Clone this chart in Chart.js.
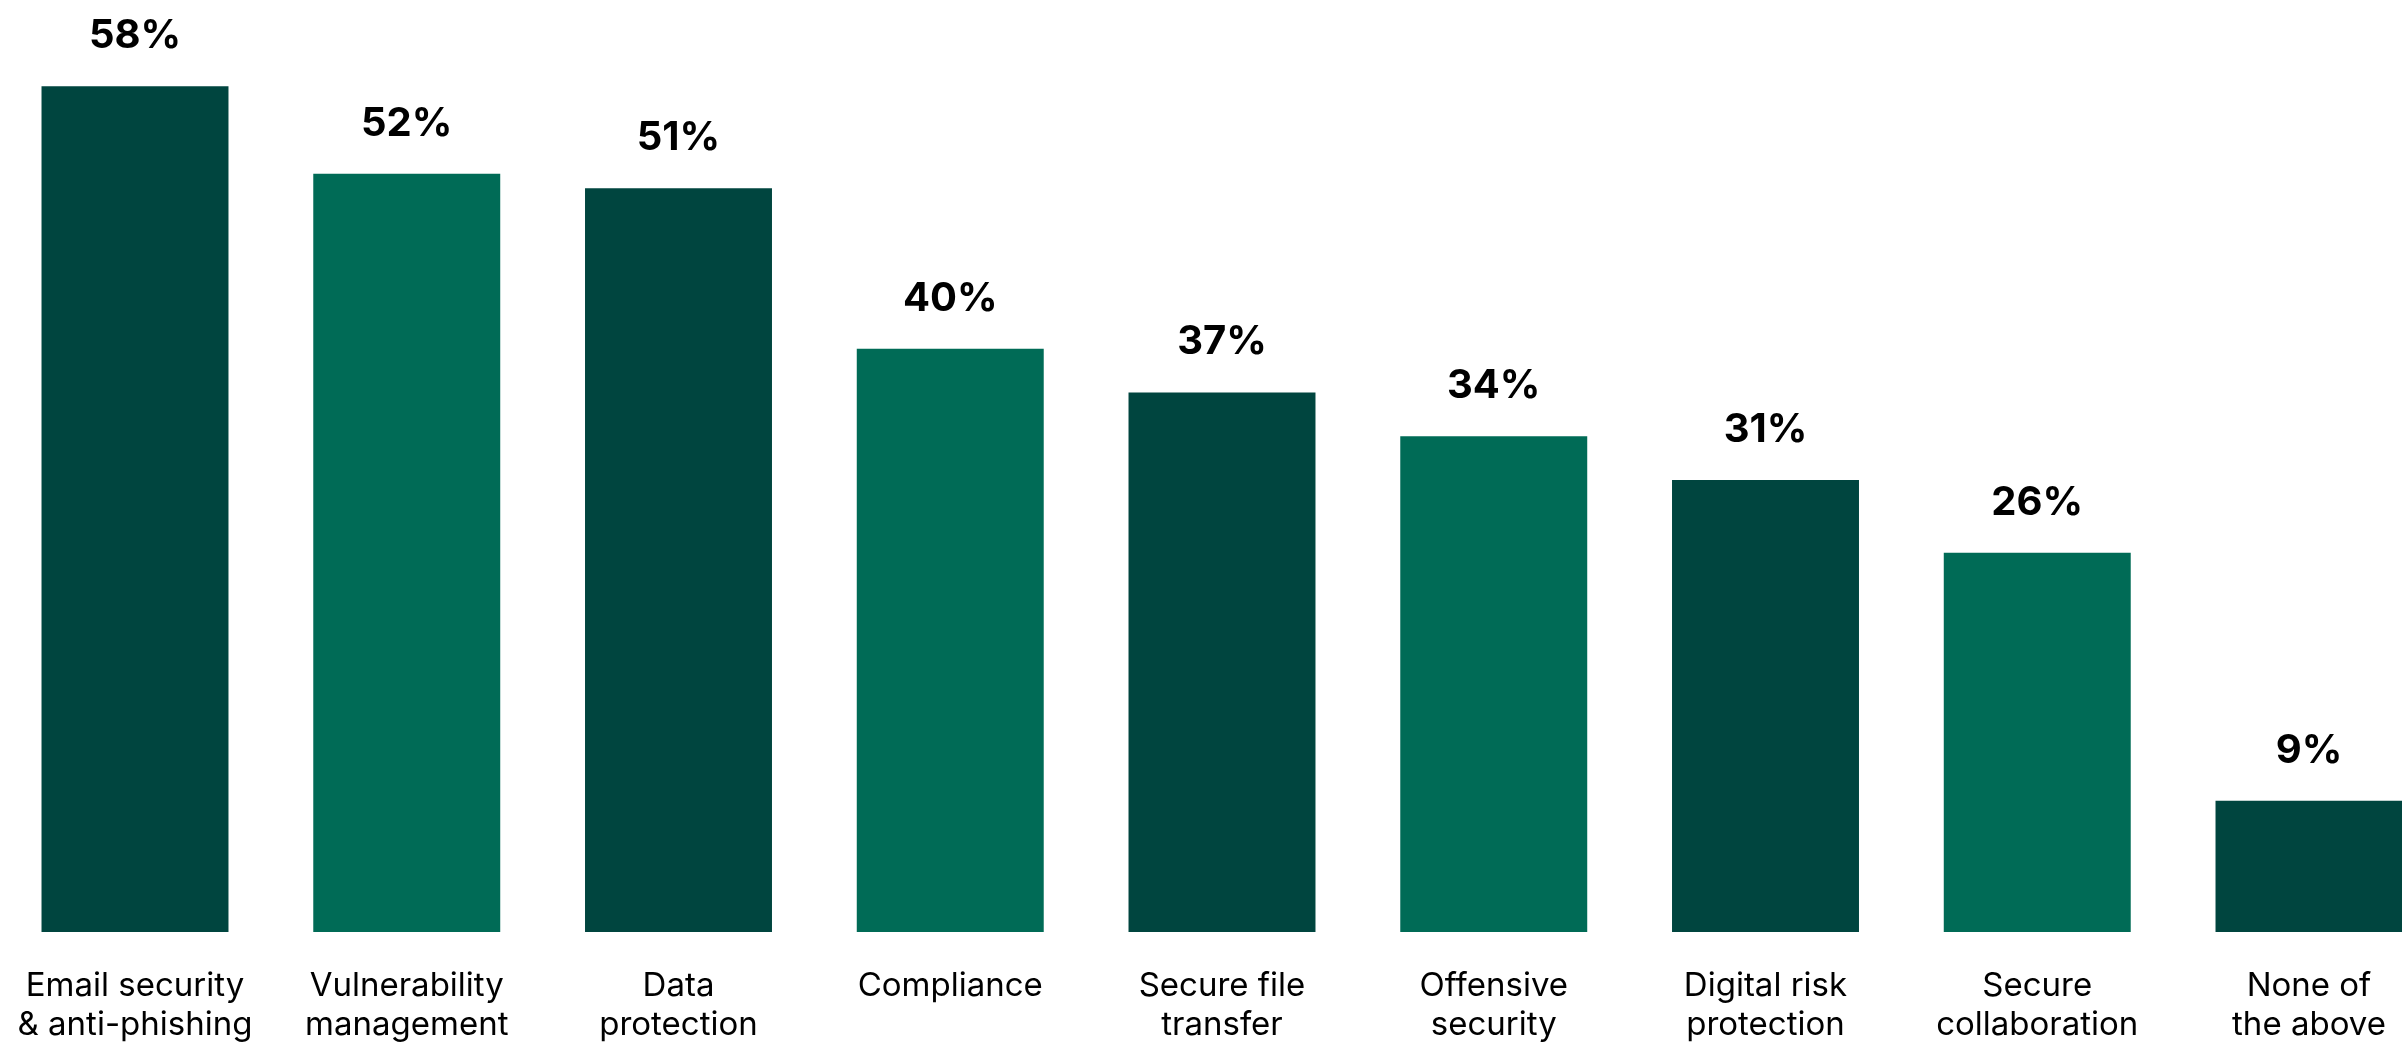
<!DOCTYPE html>
<html>
<head>
<meta charset="utf-8">
<script src="https://cdn.jsdelivr.net/npm/chart.js@4"></script>
<style>
  html, body { margin: 0; padding: 0; background: #fff; }
  .wrap { width: 2402px; height: 1061px; position: relative; }
</style>
</head>
<body>
<div class="wrap"><canvas id="myChart"></canvas></div>
<script>
// chart data
const categories = [
  ["Email security", "& anti-phishing"],
  ["Vulnerability", "management"],
  ["Data", "protection"],
  ["Compliance"],
  ["Secure file", "transfer"],
  ["Offensive", "security"],
  ["Digital risk", "protection"],
  ["Secure", "collaboration"],
  ["None of", "the above"]
];
const shares = [58, 52, 51, 40, 37, 34, 31, 26, 9];
const barColors = ["#00453F", "#006B56", "#00453F", "#006B56", "#00453F",
                   "#006B56", "#00453F", "#006B56", "#00453F"];

const FONT = "Inter, 'Open Sans', sans-serif";

// draws the % value above each bar
const valueLabels = {
  id: "valueLabels",
  afterDatasetsDraw(chart) {
    const ctx = chart.ctx;
    const meta = chart.getDatasetMeta(0);
    ctx.save();
    ctx.font = "bold 40px " + FONT;
    ctx.fillStyle = "#000";
    ctx.textAlign = "center";
    ctx.textBaseline = "alphabetic";
    meta.data.forEach((bar, i) => {
      ctx.fillText(shares[i] + "%", bar.x, bar.y - 38);
    });
    ctx.restore();
  }
};

new Chart(document.getElementById("myChart"), {
  type: "bar",
  data: {
    labels: categories,
    datasets: [{
      data: shares,
      backgroundColor: barColors,
      borderWidth: 0,
      categoryPercentage: 1,
      barPercentage: 0.688,
      clip: false
    }]
  },
  options: {
    responsive: true,
    maintainAspectRatio: false,
    animation: false,
    layout: { padding: { top: 57, left: 135, right: 93, bottom: 0 } },
    plugins: {
      legend: { display: false },
      tooltip: { enabled: false }
    },
    scales: {
      x: {
        offset: false,
        grid: { display: false, drawTicks: false },
        border: { display: false },
        ticks: {
          color: "#000",
          font: { family: FONT, size: 33, lineHeight: 1.2 },
          padding: 34,
          maxRotation: 0,
          autoSkip: false
        },
        afterFit(scale) {
          scale.height = 129;
          // labels may hang past the plot edges, don't let them push it in
          scale.paddingLeft = 0;
          scale.paddingRight = 0;
        }
      },
      y: {
        display: false,
        min: 0,
        max: 60
      }
    }
  },
  plugins: [valueLabels]
});
</script>
</body>
</html>
